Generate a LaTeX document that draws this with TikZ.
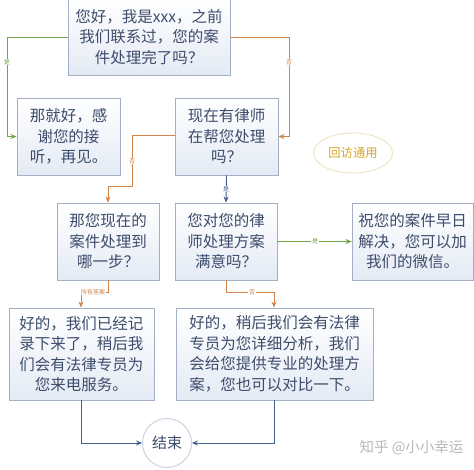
\documentclass[tikz,border=0pt]{standalone}
\usepackage{fontspec}
\setmainfont{Noto Sans CJK SC}
\usetikzlibrary{arrows.meta,shapes.geometric}
\definecolor{txt}{HTML}{3E4C6C}
\definecolor{bord}{HTML}{A3AFC4}
\definecolor{boxbot}{HTML}{E4EAF4}
\definecolor{gline}{HTML}{74A448}
\definecolor{oline}{HTML}{D0844A}
\definecolor{bline}{HTML}{41618E}
\definecolor{gold}{HTML}{D6A62A}
\definecolor{goldb}{HTML}{EEE2C0}
\tikzset{
  stepbox/.style={draw=bord, line width=0.9pt, top color=white, bottom color=boxbot,
    text=txt, align=center, inner sep=2pt, font=\fontsize{15.5}{20.5}\selectfont},
  conn/.style={line width=0.9pt, -{Stealth[length=6pt,width=5pt]}},
  lbl/.style={font=\fontsize{6}{7}\selectfont, fill=white, inner sep=0.6pt},
}
\begin{document}
\begin{tikzpicture}[x=1pt,y=-1pt]
\useasboundingbox[fill=white] (0,0) rectangle (474,470);
\node[stepbox, minimum width=162pt, minimum height=76pt] (q1) at (149,37) {您好，我是xxx，之前\\我们联系过，您的案\\件处理完了吗？};
\node[stepbox, minimum width=103pt, minimum height=77pt] (bye) at (68.5,136.5) {那就好，感\\谢您的接\\听，再见。};
\node[stepbox, minimum width=103pt, minimum height=77pt] (q2) at (226.5,136.5) {现在有律师\\在帮您处理\\吗？};
\node[stepbox, minimum width=102pt, minimum height=77pt] (q3) at (108,241.5) {那您现在的\\案件处理到\\哪一步？};
\node[stepbox, minimum width=102pt, minimum height=77pt] (q4) at (226,241.5) {您对您的律\\师处理方案\\满意吗？};
\node[stepbox, minimum width=121pt, minimum height=77pt] (wish) at (412.5,241.5) {祝您的案件早日\\解决，您可以加\\我们的微信。};
\node[stepbox, minimum width=145pt, minimum height=92pt] (rec) at (81.5,354) {好的，我们已经记\\录下来了，稍后我\\们会有法律专员为\\您来电服务。};
\node[stepbox, minimum width=197pt, minimum height=92pt] (adv) at (274.5,354) {好的，稍后我们会有法律\\专员为您详细分析，我们\\会给您提供专业的处理方\\案，您也可以对比一下。};
\node[circle, draw=bord!60, line width=0.9pt, fill=white, minimum size=49pt, text=txt,
  font=\fontsize{15}{18}\selectfont] (end) at (167,443) {结束};
\node[ellipse, draw=goldb, line width=0.9pt, minimum width=68pt, minimum height=40pt,
  text=gold, font=\fontsize{12.3}{14}\selectfont] (tag) at (353,153) {回访通用};
\node[text=gray!55, font=\fontsize{14.5}{16}\selectfont] (wm) at (411.5,448) {知乎 @小小幸运};

\coordinate (c1) at (7,37);
\coordinate (c2) at (7,136.5);
\draw[conn, gline] (q1.west) -- (c1) -- (c2) -- (bye.west);
\node[lbl, text=gline] (l1) at (7,62) {是};
\coordinate (c3) at (289,37);
\coordinate (c4) at (289,136.5);
\draw[conn, oline] (q1.east) -- (c3) -- (c4) -- (q2.east);
\node[lbl, text=oline] (l2) at (289,62) {否};
\coordinate (c5) at (132,135);
\coordinate (c6) at (132,186);
\coordinate (c7) at (108,186);
\draw[conn, oline] (q2.west |- c5) -- (c5) -- (c6) -- (c7) -- (q3.north);
\node[lbl, text=oline] (l3) at (132,161) {否};
\draw[conn, bline] (q2.south) -- (q4.north);
\node[lbl, text=bline] (l4) at (226,189) {是};
\draw[conn, gline] (q4.east) -- (wish.west);
\node[lbl, text=gline] (l5) at (315,241.5) {是};
\coordinate (c8) at (108,292);
\coordinate (c9) at (81,292);
\draw[conn, oline] (q3.south) -- (c8) -- (c9) -- (rec.north -| c9);
\node[lbl, text=oline] (l6) at (93,292) {所有答案};
\coordinate (c10) at (226,292);
\coordinate (c11) at (274,292);
\draw[conn, oline] (q4.south) -- (c10) -- (c11) -- (adv.north -| c11);
\node[lbl, text=oline] (l7) at (252,292) {否};
\coordinate (c12) at (81,443);
\coordinate (c13) at (274,443);
\draw[conn, bline] (rec.south -| c12) -- (c12) -- (end.west);
\draw[conn, bline] (adv.south -| c13) -- (c13) -- (end.east);
\end{tikzpicture}
\end{document}
